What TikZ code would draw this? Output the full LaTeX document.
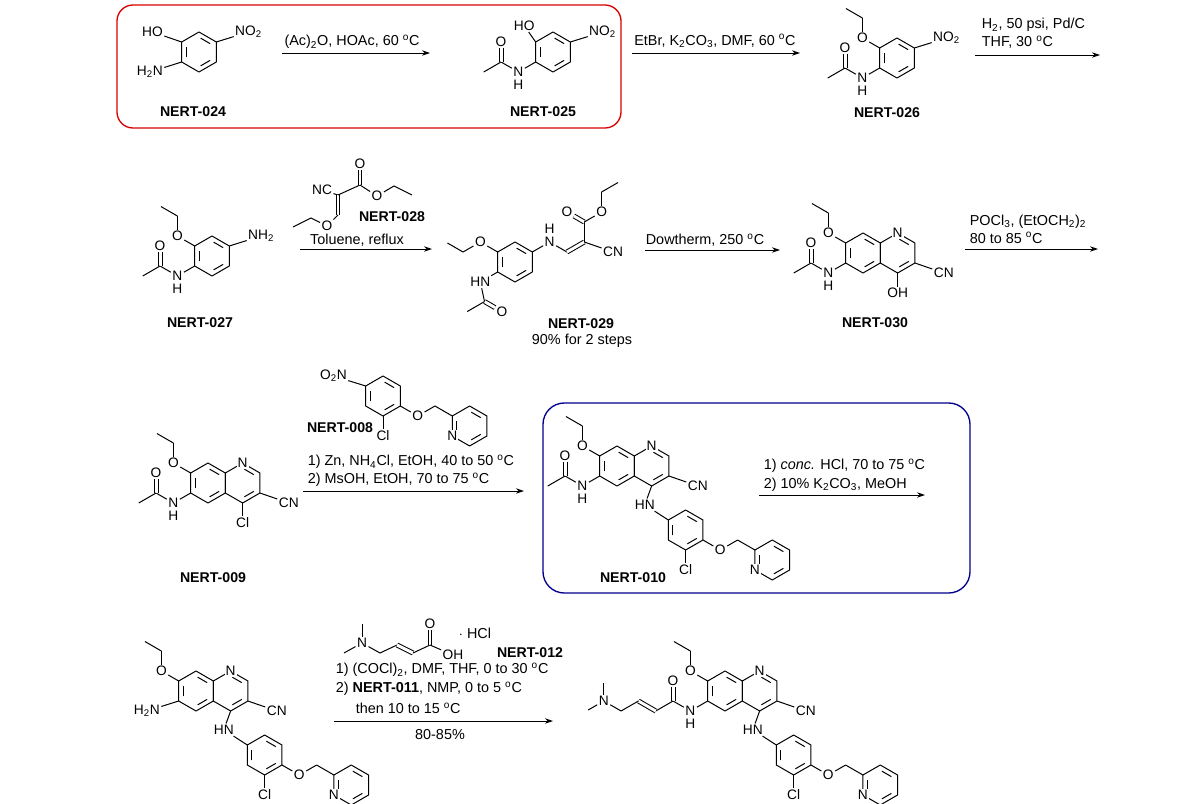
\documentclass[tikz,border=0pt]{standalone}
\usepackage{fontspec}
\setmainfont{Liberation Sans}
\usetikzlibrary{calc,arrows.meta}
\newcommand\ring[2]{\coordinate (#1c) at #2;
 \foreach \i/\a in {1/90,2/30,3/-30,4/-90,5/-150,6/150}{\coordinate (#1\i) at ($(#1c)+(\a:20)$);}
 \draw[line join=round] (#11)--(#12)--(#13)--(#14)--(#15)--(#16)--cycle;}
\newcommand\dbl[3]{\path ($(#1c)!0.74!(#1#2)$) coordinate (tpA) ($(#1c)!0.74!(#1#3)$) coordinate (tpB);
 \draw ($(tpA)!0.13!(tpB)$)--($(tpB)!0.13!(tpA)$);}
\newcommand\benz[2]{\ring{#1}{#2}\dbl{#1}{1}{2}\dbl{#1}{3}{4}\dbl{#1}{5}{6}}
\newcommand\atm[5][center]{\node[lbl,anchor=#1] (#5) at ($(#2)+(#3:20)$) {#4}; \draw (#2)--(#5);}
\newcommand\datm[5][center]{\node[lbl,anchor=#1] (#5) at ($(#2)+(#3:20)$) {#4}; \draw[dbond] (#2)--(#5);}
\newcommand\bnd[3]{\draw (#1) -- ($(#1)+(#2:20)$) coordinate (#3);}
\newcommand\vlab[2]{\node[lbl,fill=white] at (#1) {#2};}
\newcommand\amide[2]{\atm{#1}{-150}{N}{#2n}\node[lbl] at ($(#2n)+(0,-13)$) {H};
 \bnd{#2n}{150}{#2c}\datm{#2c}{90}{O}{#2o}\draw (#2c)--++(-150:20);}
\newcommand\oet[2]{\atm{#1}{150}{O}{#2o}\bnd{#2o}{90}{#2a}\draw (#2a)--++(150:19);}
\newcommand\quin[4]{\ring{#1}{(#3,-#4)}\ring{#2}{($(#1c)+(34.64,0)$)}
 \dbl{#1}{1}{2}\dbl{#1}{3}{4}\dbl{#1}{5}{6}\dbl{#2}{1}{2}\dbl{#2}{3}{4}\vlab{#21}{N}}
\newcommand\tailring[2]{\benz{#1g}{#2}
 \atm{#1g4}{-90}{Cl}{#1cl}\atm{#1g3}{-30}{O}{#1o}\bnd{#1o}{30}{#1ch}
 \ring{#1h}{($(#1ch)+(-30:40)$)}\dbl{#1h}{1}{2}\dbl{#1h}{3}{4}\dbl{#1h}{5}{6}
 \draw (#1ch)--(#1h6);\vlab{#1h5}{N}}
\newcommand\tail[3]{\atm{#1}{-110}{HN}{#2hn}\tailring{#2}{($(#3)+(34,-64)$)}\draw (#2hn)--(#2g6);}
\newcommand\dg{\textsuperscript{o}C}
\begin{document}
\begin{tikzpicture}[x=0.75pt,y=0.75pt,line width=0.75pt,
 lbl/.style={font=\fontsize{10.3}{11}\selectfont,inner sep=0.8pt},
 dbond/.style={double,double distance=2.2pt},
 rt/.style={font=\fontsize{10.8}{13}\selectfont,inner sep=1pt},
 cmp/.style={font=\fontsize{10.6}{12}\selectfont\bfseries,inner sep=1pt},
 arr/.style={-{Stealth[length=6pt,width=4pt]}}]
\useasboundingbox (0,0) rectangle (1192,-803);
% ---- row 1
\draw[red!85!black,line width=1pt,rounded corners=12pt] (117,-5) rectangle (621,-128);
\benz{a}{(199,-52)}
\atm[east]{a6}{150}{HO}{a24ho}\atm[west]{a2}{30}{NO\textsubscript{2}}{a24no}\atm[east]{a5}{-150}{H\textsubscript{2}N}{a24nh}
\node[cmp] at (193,-112) {NERT-024};
\draw[arr] (282,-53)--(430,-53);
\node[rt] at (352,-42) {(Ac)\textsubscript{2}O, HOAc, 60 \dg};
\benz{b}{(553,-52)}
\atm{b6}{125}{HO}{b25ho}\atm[west]{b2}{30}{NO\textsubscript{2}}{b25no}\amide{b5}{b25}
\node[cmp] at (543,-112) {NERT-025};
\draw[arr] (632,-53)--(800,-53);
\node[rt] at (715,-41) {EtBr, K\textsubscript{2}CO\textsubscript{3}, DMF, 60 \dg};
\benz{c}{(897,-58)}
\oet{c6}{c26}\atm[west]{c2}{30}{NO\textsubscript{2}}{c26no}\amide{c5}{c26}
\node[cmp] at (887,-113) {NERT-026};
\draw[arr] (975,-55)--(1100,-55);
\node[rt,anchor=south west,align=left] at (980,-50) {H\textsubscript{2}, 50 psi, Pd/C\\THF, 30 \dg};
% ---- row 2
\benz{d}{(212,-256)}
\oet{d6}{d27}\atm[west]{d2}{30}{NH\textsubscript{2}}{d27nh}\amide{d5}{d27}
\node[cmp] at (200,-323) {NERT-027};
\node[lbl] (k28nc) at (322,-190) {NC};
\coordinate (k28a) at (338,-195);
\draw (k28nc)--(k28a);
\draw[dbond] (k28a)--(338,-215) coordinate (k28b);
\node[lbl] (k28o1) at (327,-226) {O};
\draw (k28b)--(k28o1); \draw (k28o1)--(311,-218)--(293,-227);
\coordinate (k28c) at (360,-185); \draw (k28a)--(k28c);
\node[lbl] (k28o2) at (360,-164) {O}; \draw[dbond] (k28c)--(k28o2);
\node[lbl] (k28o3) at (377,-196) {O}; \draw (k28c)--(k28o3); \draw (k28o3)--(394,-186)--(412,-195);
\node[cmp] at (392,-217) {NERT-028};
\draw[arr] (300,-249)--(432,-249);
\node[rt] at (357,-240) {Toluene, reflux};
\benz{dd}{(515,-262)}
\atm{dd6}{150}{O}{d29o}\bnd{d29o}{-150}{d29a}\draw (d29a)--++(150:18);
\atm{dd5}{-150}{HN}{d29n}\bnd{d29n}{-78}{d29c}\datm{d29c}{-30}{O}{d29co}\draw (d29c)--++(-150:20);
\atm{dd2}{30}{N}{d29nh}\node[lbl] at ($(d29nh)+(0,13)$) {H};
\bnd{d29nh}{-30}{d29k1}\draw[dbond] (d29k1)--++(30:20) coordinate (d29k2);
\atm[west]{d29k2}{-30}{CN}{d29cn}\bnd{d29k2}{90}{d29cc}\datm{d29cc}{150}{O}{d29o2}
\atm{d29cc}{30}{O}{d29eo}\bnd{d29eo}{90}{d29e1}\draw (d29e1)--++(30:19);
\node[cmp] at (581,-324) {NERT-029};
\node[rt] at (582,-341) {90\% for 2 steps};
\draw[arr] (645,-250)--(780,-250);
\node[rt] at (705,-240) {Dowtherm, 250 \dg};
\quin{e30}{f30}{863}{253}
\oet{e306}{q30}\amide{e305}{q30}\atm[west]{f303}{-30}{CN}{q30cn}\atm{f304}{-90}{OH}{q30oh}
\node[cmp] at (875,-323) {NERT-030};
\draw[arr] (965,-249)--(1098,-249);
\node[rt,anchor=south west,align=left] at (968,-245) {POCl\textsubscript{3}, (EtOCH\textsubscript{2})\textsubscript{2}\\80 to 85 \dg};
% ---- row 3
\quin{e09}{f09}{208}{483}
\oet{e096}{q09}\amide{e095}{q09}\atm[west]{f093}{-30}{CN}{q09cn}\atm{f094}{-90}{Cl}{q09cl}
\node[cmp] at (213,-578) {NERT-009};
\tailring{t8}{(383,-396)}
\atm[east]{t8g6}{150}{O\textsubscript{2}N}{t8no}
\node[cmp] at (340,-428) {NERT-008};
\node[rt,anchor=west] at (306,-462) {1) Zn, NH\textsubscript{4}Cl, EtOH, 40 to 50 \dg};
\node[rt,anchor=west] at (306,-480) {2) MsOH, EtOH, 70 to 75 \dg};
\draw[arr] (303,-491)--(524,-491);
\draw[blue!55!black,line width=1pt,rounded corners=16pt] (543,-403) rectangle (970,-593);
\quin{e10}{f10}{617}{466}
\oet{e106}{q10}\amide{e105}{q10}\atm[west]{f103}{-30}{CN}{q10cn}\tail{f104}{t10}{f10c}
\node[cmp] at (633,-578) {NERT-010};
\node[rt,anchor=west] at (762,-466) {1) \textit{conc.} HCl, 70 to 75 \dg};
\node[rt,anchor=west] at (762,-485) {2) 10\% K\textsubscript{2}CO\textsubscript{3}, MeOH};
\draw[arr] (759,-495)--(925,-495);
% ---- row 4
\quin{e11}{f11}{196}{691}
\oet{e116}{q11}\atm[east]{e115}{-150}{H\textsubscript{2}N}{q11nh}\atm[west]{f113}{-30}{CN}{q11cn}\tail{f114}{t11}{f11c}
\node[lbl] (m12n) at (362,-643) {N};
\draw (m12n)--(362,-624); \draw (m12n)--(344,-653);
\coordinate (m12a) at (380,-653); \coordinate (m12b) at (397,-645); \coordinate (m12c) at (413,-653); \coordinate (m12d) at (430,-645);
\draw (m12n)--(m12a)--(m12b); \draw[dbond] (m12b)--(m12c); \draw (m12c)--(m12d);
\node[lbl] (m12o) at (430,-624) {O}; \draw[dbond] (m12d)--(m12o);
\node[lbl] (m12oh) at (453,-655) {OH}; \draw (m12d)--(m12oh);
\node[rt] at (475,-633) {$\cdot$ HCl};
\node[cmp] at (530,-653) {NERT-012};
\node[rt,anchor=west] at (334,-670) {1) (COCl)\textsubscript{2}, DMF, THF, 0 to 30 \dg};
\node[rt,anchor=west] at (334,-689) {2) \textbf{NERT-011}, NMP, 0 to 5 \dg};
\node[rt,anchor=west] at (354,-708) {then 10 to 15 \dg};
\draw[arr] (334,-721)--(553,-721);
\node[rt] at (440,-735) {80-85\%};
\quin{eF}{fF}{725}{691}
\oet{eF6}{qF}\atm[west]{fF3}{-30}{CN}{qFcn}\tail{fF4}{tF}{fFc}
\atm{eF5}{-150}{N}{qFn}\node[lbl] at ($(qFn)+(0,-13)$) {H};
\bnd{qFn}{150}{qF1}\datm{qF1}{90}{O}{qFo}\bnd{qF1}{-150}{qF2}
\draw[dbond] (qF2)--++(150:20) coordinate (qF3);
\bnd{qF3}{-150}{qF4}\atm{qF4}{150}{N}{qFnn}
\draw (qFnn)--++(90:18); \draw (qFnn)--++(-150:18);
\end{tikzpicture}
\end{document}
